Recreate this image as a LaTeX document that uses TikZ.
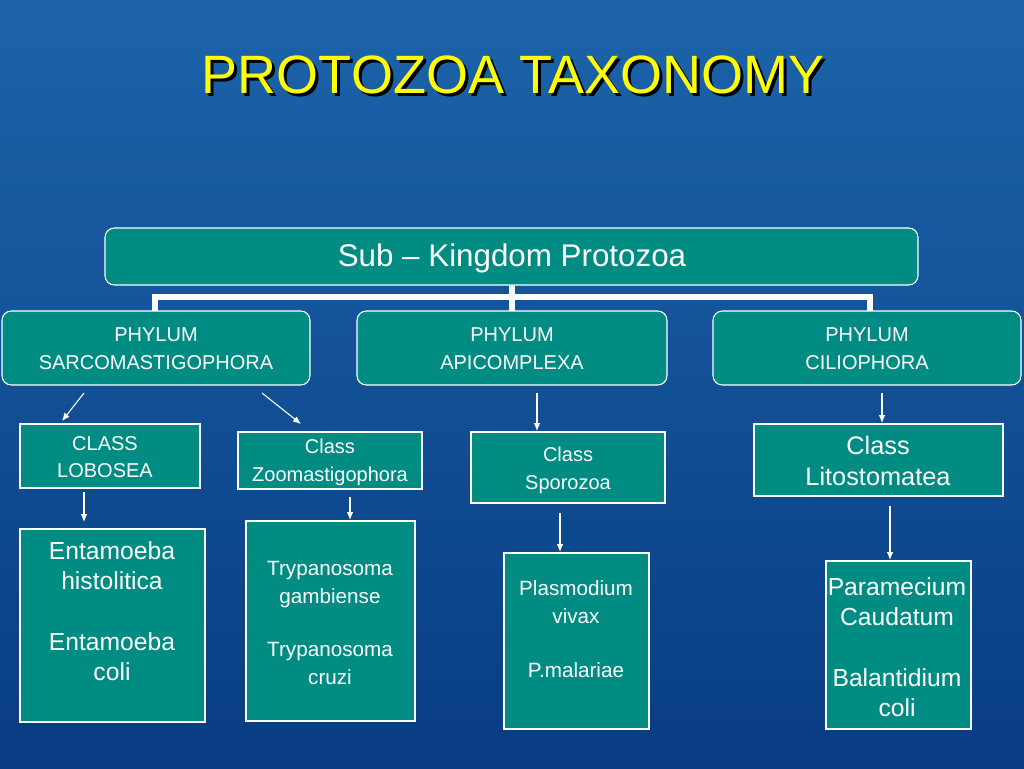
\documentclass[tikz,border=0pt]{standalone}
\usepackage{fontspec}
\setmainfont{Liberation Sans}
\usetikzlibrary{positioning,arrows.meta}
\definecolor{teal1}{RGB}{0,140,130}
\definecolor{bgtop}{RGB}{28,100,170}
\definecolor{bgbot}{RGB}{8,60,130}
\definecolor{titley}{RGB}{255,255,0}
\begin{document}
\begin{tikzpicture}[x=0.75pt,y=-0.75pt,
  rbox/.style={draw=white,fill=teal1,rounded corners=7pt,line width=0.8pt},
  sbox/.style={draw=white,fill=teal1,line width=0.8pt},
  lbl/.style={text=white,align=center,inner sep=0pt},
  arr/.style={draw=white,-{Latex[length=6pt,width=5pt]},line width=0.8pt}]
      \shade [top color=bgtop, bottom color=bgbot] (0,0) rectangle (1024,768);
      \useasboundingbox (0,0) rectangle (1024,768);
      \node [text=black,font=\fontsize{40.5}{44}\selectfont] (shadow) at (516,78) {PROTOZOA TAXONOMY};
      \node [text=titley,font=\fontsize{40.5}{44}\selectfont] (title) at (513,75) {PROTOZOA TAXONOMY};
      % kingdom
      \draw [rbox] (105,228) rectangle (918,285);
      \node [lbl,font=\fontsize{23.5}{26}\selectfont] (king) at (512,258) {Sub -- Kingdom Protozoa};
      % bracket
      \draw [white,line width=4pt] (512,285) -- (512,297) (155,311) -- (155,297) -- (870,297) -- (870,311) (512,297) -- (512,311);
      % phyla
      \draw [rbox] (2,311) rectangle (310,385);
      \draw [rbox] (357,311) rectangle (667,385);
      \draw [rbox] (713,311) rectangle (1021,385);
      \node [lbl,font=\fontsize{15}{21}\selectfont] (p1) at (156,349) {PHYLUM\\SARCOMASTIGOPHORA};
      \node [lbl,font=\fontsize{15}{21}\selectfont] (p2) at (512,349) {PHYLUM\\APICOMPLEXA};
      \node [lbl,font=\fontsize{15}{21}\selectfont] (p3) at (867,349) {PHYLUM\\CILIOPHORA};
      % classes
      \draw [sbox] (20,424) rectangle (200,488);
      \draw [sbox] (238,432) rectangle (422,489);
      \draw [sbox] (471,432) rectangle (665,503);
      \draw [sbox] (754,424) rectangle (1003,496);
      \node [lbl,font=\fontsize{15}{20}\selectfont] (c1) at (105,457) {CLASS\\LOBOSEA};
      \node [lbl,font=\fontsize{15}{21}\selectfont] (c2) at (330,462) {Class\\Zoomastigophora};
      \node [lbl,font=\fontsize{15}{21}\selectfont] (c3) at (568,470) {Class\\Sporozoa};
      \node [lbl,font=\fontsize{19}{23}\selectfont] (c4) at (878,461) {Class\\Litostomatea};
      % species
      \draw [sbox] (20,529) rectangle (205,722);
      \draw [sbox] (246,521) rectangle (415,721);
      \draw [sbox] (504,553) rectangle (649,729);
      \draw [sbox] (826,561) rectangle (971,729);
      \node [lbl,font=\fontsize{18.5}{22.5}\selectfont] (s1) at (112,611) {Entamoeba\\histolitica\\[23.5pt]Entamoeba\\coli};
      \node [lbl,font=\fontsize{15.5}{21}\selectfont] (s2) at (330,623) {Trypanosoma\\gambiense\\[19pt]Trypanosoma\\cruzi};
      \node [lbl,font=\fontsize{15.5}{21}\selectfont] (s3) at (576,629) {Plasmodium\\vivax\\[19pt]P.malariae};
      \node [lbl,font=\fontsize{18.5}{22.5}\selectfont] (s4) at (897,647) {Paramecium\\Caudatum\\[23.5pt]Balantidium\\coli};
      % arrows
      \coordinate (a1) at (84,393);  \coordinate (b1) at (62,421);
      \coordinate (a2) at (262,393); \coordinate (b2) at (301,424);
      \coordinate (a3) at (537,393); \coordinate (b3) at (537,431);
      \coordinate (a4) at (882,393); \coordinate (b4) at (882,423);
      \coordinate (a5) at (84,492);  \coordinate (b5) at (84,522);
      \coordinate (a6) at (350,497); \coordinate (b6) at (350,520);
      \coordinate (a7) at (560,513); \coordinate (b7) at (560,552);
      \coordinate (a8) at (890,506); \coordinate (b8) at (890,560);
      \foreach \i in {1,...,8} \draw [arr] (a\i) -- (b\i);
\end{tikzpicture}
\end{document}
